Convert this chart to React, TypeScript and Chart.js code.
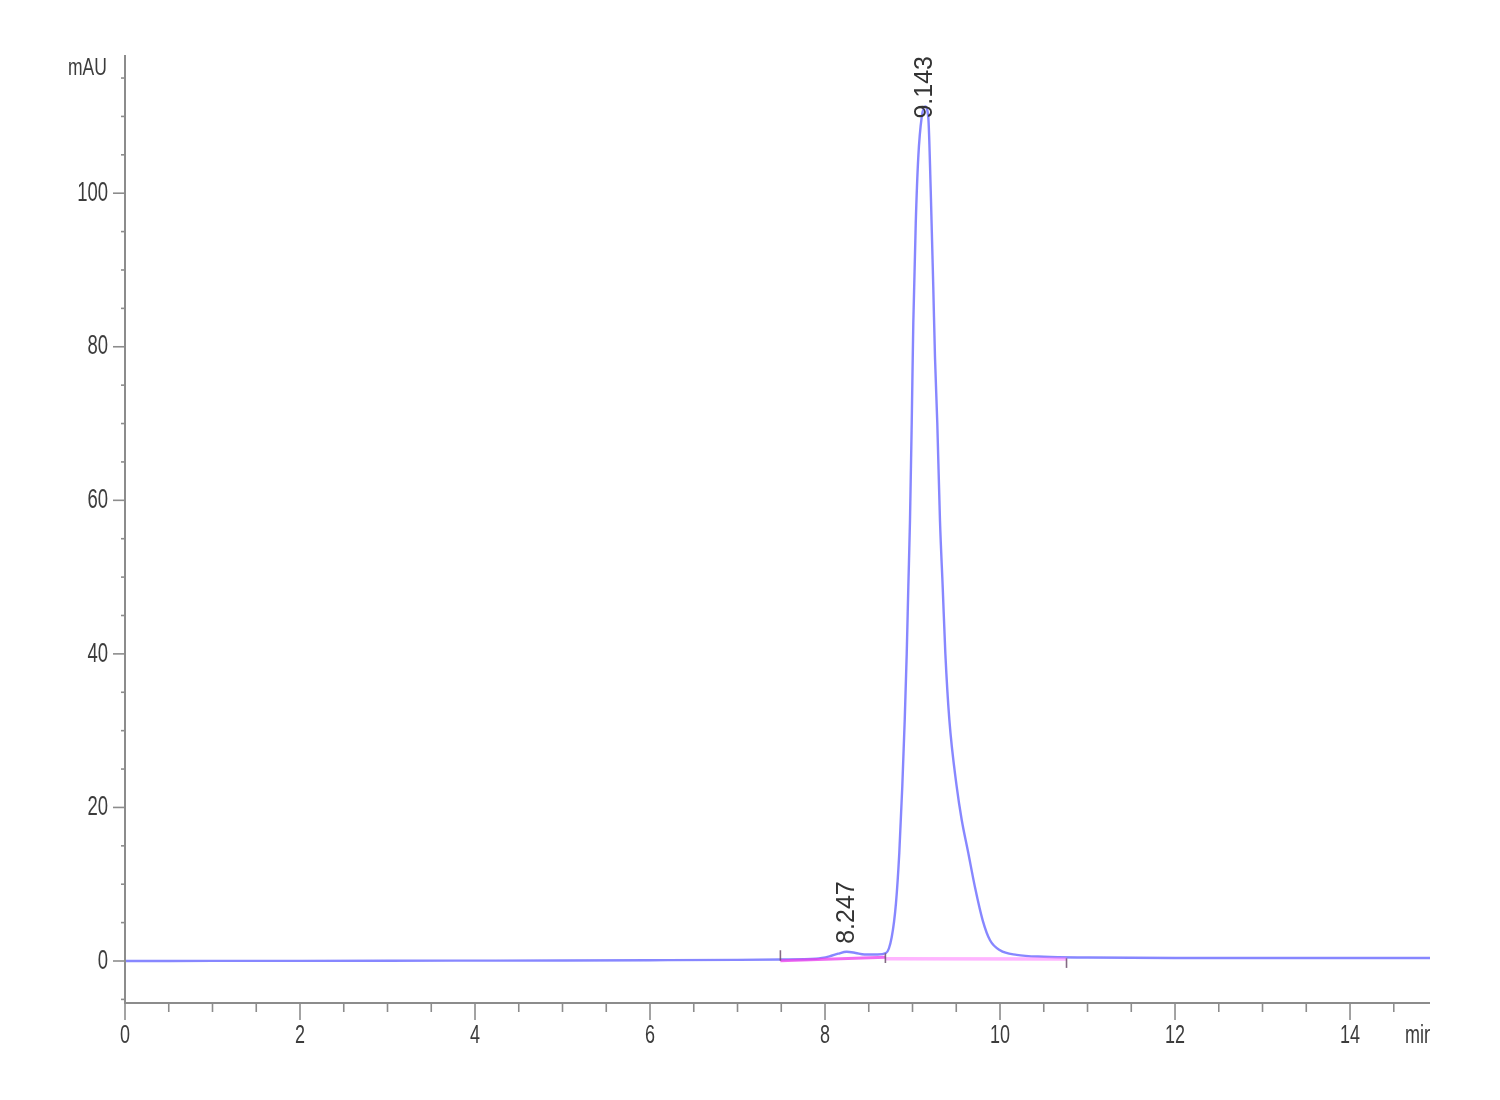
import React, { useEffect, useRef } from "react";
import { Chart, registerables } from "chart.js";
Chart.register(...registerables);

// Chromatogram trace (time in min, absorbance in mAU)
const traceTime = [
  0, 1, 2, 3, 4, 5, 6, 7, 7.5, 7.9, 8.05, 8.15, 8.247, 8.35, 8.45, 8.6, 8.697,
  8.762, 8.811, 8.849, 8.883, 8.911, 8.934, 8.952, 8.971, 8.991, 9.009, 9.037,
  9.066, 9.105, 9.143, 9.18, 9.208, 9.238, 9.257, 9.283, 9.314, 9.345, 9.375,
  9.421, 9.505, 9.562, 9.637, 9.714, 9.802, 9.886, 10.0, 10.19, 10.5, 11, 12,
  13, 14, 14.914,
];
const traceValue = [
  0.0, 0.01, 0.02, 0.03, 0.05, 0.07, 0.1, 0.15, 0.2, 0.3, 0.6, 0.95, 1.2, 1.05,
  0.85, 0.85, 1.04, 3.1, 7.55, 14.1, 22.7, 31.4, 40.1, 48.7, 57.3, 70.1, 83.1,
  96.1, 104.7, 109.9, 111.3, 109.9, 100.4, 87.4, 78.6, 70.1, 57.3, 48.7, 40.1,
  31.4, 22.7, 18.4, 14.1, 9.6, 5.3, 2.7, 1.4, 0.8, 0.55, 0.45, 0.4, 0.4, 0.4,
  0.4,
];

// Integration baselines
const baseline1Time = [7.49, 8.69];
const baseline1Value = [0.04, 0.48];
const baseline2Time = [8.69, 10.76];
const baseline2Value = [0.3, 0.25];

// Integration event markers
const markerTime = [7.49, 8.69, 10.76];
const markerTop = [1.4, 1.0, 0.35];
const markerBottom = [0.04, -0.26, -0.9];

// Peak annotations
const peakTime = [8.247, 9.143];
const peakHeight = [1.2, 111.3];
const peakLabel = ["8.247", "9.143"];

// Axes
const xMin = 0;
const xMax = 14.914;
const yMin = -5.47;
const yMax = 118;
const xMajorTicks = [0, 2, 4, 6, 8, 10, 12, 14];
const xMinorStep = 0.5;
const yMajorTicks = [0, 20, 40, 60, 80, 100];
const yMinorStep = 5;
const yUnitLabel = "mAU";
const xUnitLabel = "min";

const toPoints = (xs: number[], ys: number[]) => xs.map((x, i) => ({ x, y: ys[i] }));

function drawCondensed(
  ctx: CanvasRenderingContext2D,
  text: string,
  x: number,
  y: number,
  align: CanvasTextAlign,
  sx: number,
  font: string
) {
  ctx.save();
  ctx.translate(x, y);
  ctx.scale(sx, 1);
  ctx.font = font;
  ctx.textAlign = align;
  ctx.textBaseline = "middle";
  ctx.fillText(text, 0, 0);
  ctx.restore();
}

const axesPlugin = {
  id: "chromAxes",
  afterDraw(chart: any) {
    const ctx: CanvasRenderingContext2D = chart.ctx;
    const xs = chart.scales.x;
    const ys = chart.scales.y;
    const area = chart.chartArea;
    const left = area.left;
    const bottom = area.bottom;
    ctx.save();
    ctx.strokeStyle = "#8c8c8c";
    ctx.lineWidth = 2;
    // axis lines
    ctx.beginPath();
    ctx.moveTo(left, area.top);
    ctx.lineTo(left, bottom);
    ctx.lineTo(area.right, bottom);
    ctx.stroke();

    ctx.lineWidth = 1.6;
    // y ticks
    for (let v = Math.ceil(yMin / yMinorStep) * yMinorStep; v <= yMax; v += yMinorStep) {
      const py = ys.getPixelForValue(v);
      const major = yMajorTicks.includes(v);
      ctx.beginPath();
      ctx.moveTo(left - (major ? 12 : 4), py);
      ctx.lineTo(left, py);
      ctx.stroke();
    }
    // x ticks
    for (let t = xMin; t <= xMax + 1e-6; t += xMinorStep) {
      const px = xs.getPixelForValue(t);
      const major = xMajorTicks.includes(Math.round(t * 100) / 100);
      ctx.beginPath();
      ctx.moveTo(px, bottom);
      ctx.lineTo(px, bottom + (major ? 17 : 9));
      ctx.stroke();
    }

    ctx.fillStyle = "#3c3c3c";
    yMajorTicks.forEach((v) => {
      drawCondensed(ctx, String(v), left - 17, ys.getPixelForValue(v), "right", 0.66, "28px 'Liberation Sans', Arial, sans-serif");
    });
    xMajorTicks.forEach((t) => {
      drawCondensed(ctx, String(t), xs.getPixelForValue(t), bottom + 33, "center", 0.72, "25px 'Liberation Sans', Arial, sans-serif");
    });
    drawCondensed(ctx, yUnitLabel, left - 57, area.top + 14, "left", 0.76, "23px 'Liberation Sans', Arial, sans-serif");
    ctx.save();
    ctx.beginPath();
    ctx.rect(0, 0, area.right, chart.height);
    ctx.clip();
    drawCondensed(ctx, xUnitLabel, area.right - 25, bottom + 33, "left", 0.72, "25px 'Liberation Sans', Arial, sans-serif");
    ctx.restore();

    // peak labels (rotated)
    ctx.fillStyle = "#333333";
    ctx.font = "25px 'Liberation Sans', Arial, sans-serif";
    peakLabel.forEach((label, i) => {
      const px = xs.getPixelForValue(peakTime[i]);
      const w = ctx.measureText(label).width;
      let start = ys.getPixelForValue(peakHeight[i]) - 8;
      if (start - w < area.top + 1) start = area.top + 1 + w;
      ctx.save();
      ctx.translate(px, start);
      ctx.rotate(-Math.PI / 2);
      ctx.textAlign = "left";
      ctx.textBaseline = "middle";
      ctx.fillText(label, 0, 0);
      ctx.restore();
    });
    ctx.restore();
  },
};

export default function App() {
  const ref = useRef<HTMLCanvasElement | null>(null);
  useEffect(() => {
    if (!ref.current) return;
    const markerSets = markerTime.map((t, i) => ({
      data: [
        { x: t, y: markerBottom[i] },
        { x: t, y: markerTop[i] },
      ],
      borderColor: "rgba(110,80,110,0.85)",
      borderWidth: 1.6,
      pointRadius: 0,
      fill: false,
    }));
    const chart = new Chart(ref.current, {
      type: "line",
      data: {
        datasets: [
          ...markerSets,
          {
            data: toPoints(baseline1Time, baseline1Value),
            borderColor: "rgba(235,60,235,0.75)",
            borderWidth: 3,
            pointRadius: 0,
            fill: false,
          },
          {
            data: toPoints(baseline2Time, baseline2Value),
            borderColor: "rgba(255,120,255,0.55)",
            borderWidth: 3.5,
            pointRadius: 0,
            fill: false,
          },
          {
            data: toPoints(traceTime, traceValue),
            borderColor: "rgba(95,95,255,0.75)",
            borderWidth: 2.4,
            pointRadius: 0,
            fill: false,
            cubicInterpolationMode: "monotone",
          },
        ],
      },
      options: {
        animation: false,
        responsive: false,
        devicePixelRatio: 1,
        layout: { padding: { left: 125, right: 70, top: 55, bottom: 97 } },
        plugins: { legend: { display: false }, tooltip: { enabled: false } },
        scales: {
          x: { type: "linear", min: xMin, max: xMax, display: false },
          y: { type: "linear", min: yMin, max: yMax, display: false },
        },
      },
      plugins: [axesPlugin],
    } as any);
    return () => chart.destroy();
  }, []);
  return (
    <div style={{ position: "absolute", left: 0, top: 0, width: 1500, height: 1100, background: "#fff" }}>
      <canvas ref={ref} width={1500} height={1100} style={{ width: 1500, height: 1100 }} />
    </div>
  );
}
